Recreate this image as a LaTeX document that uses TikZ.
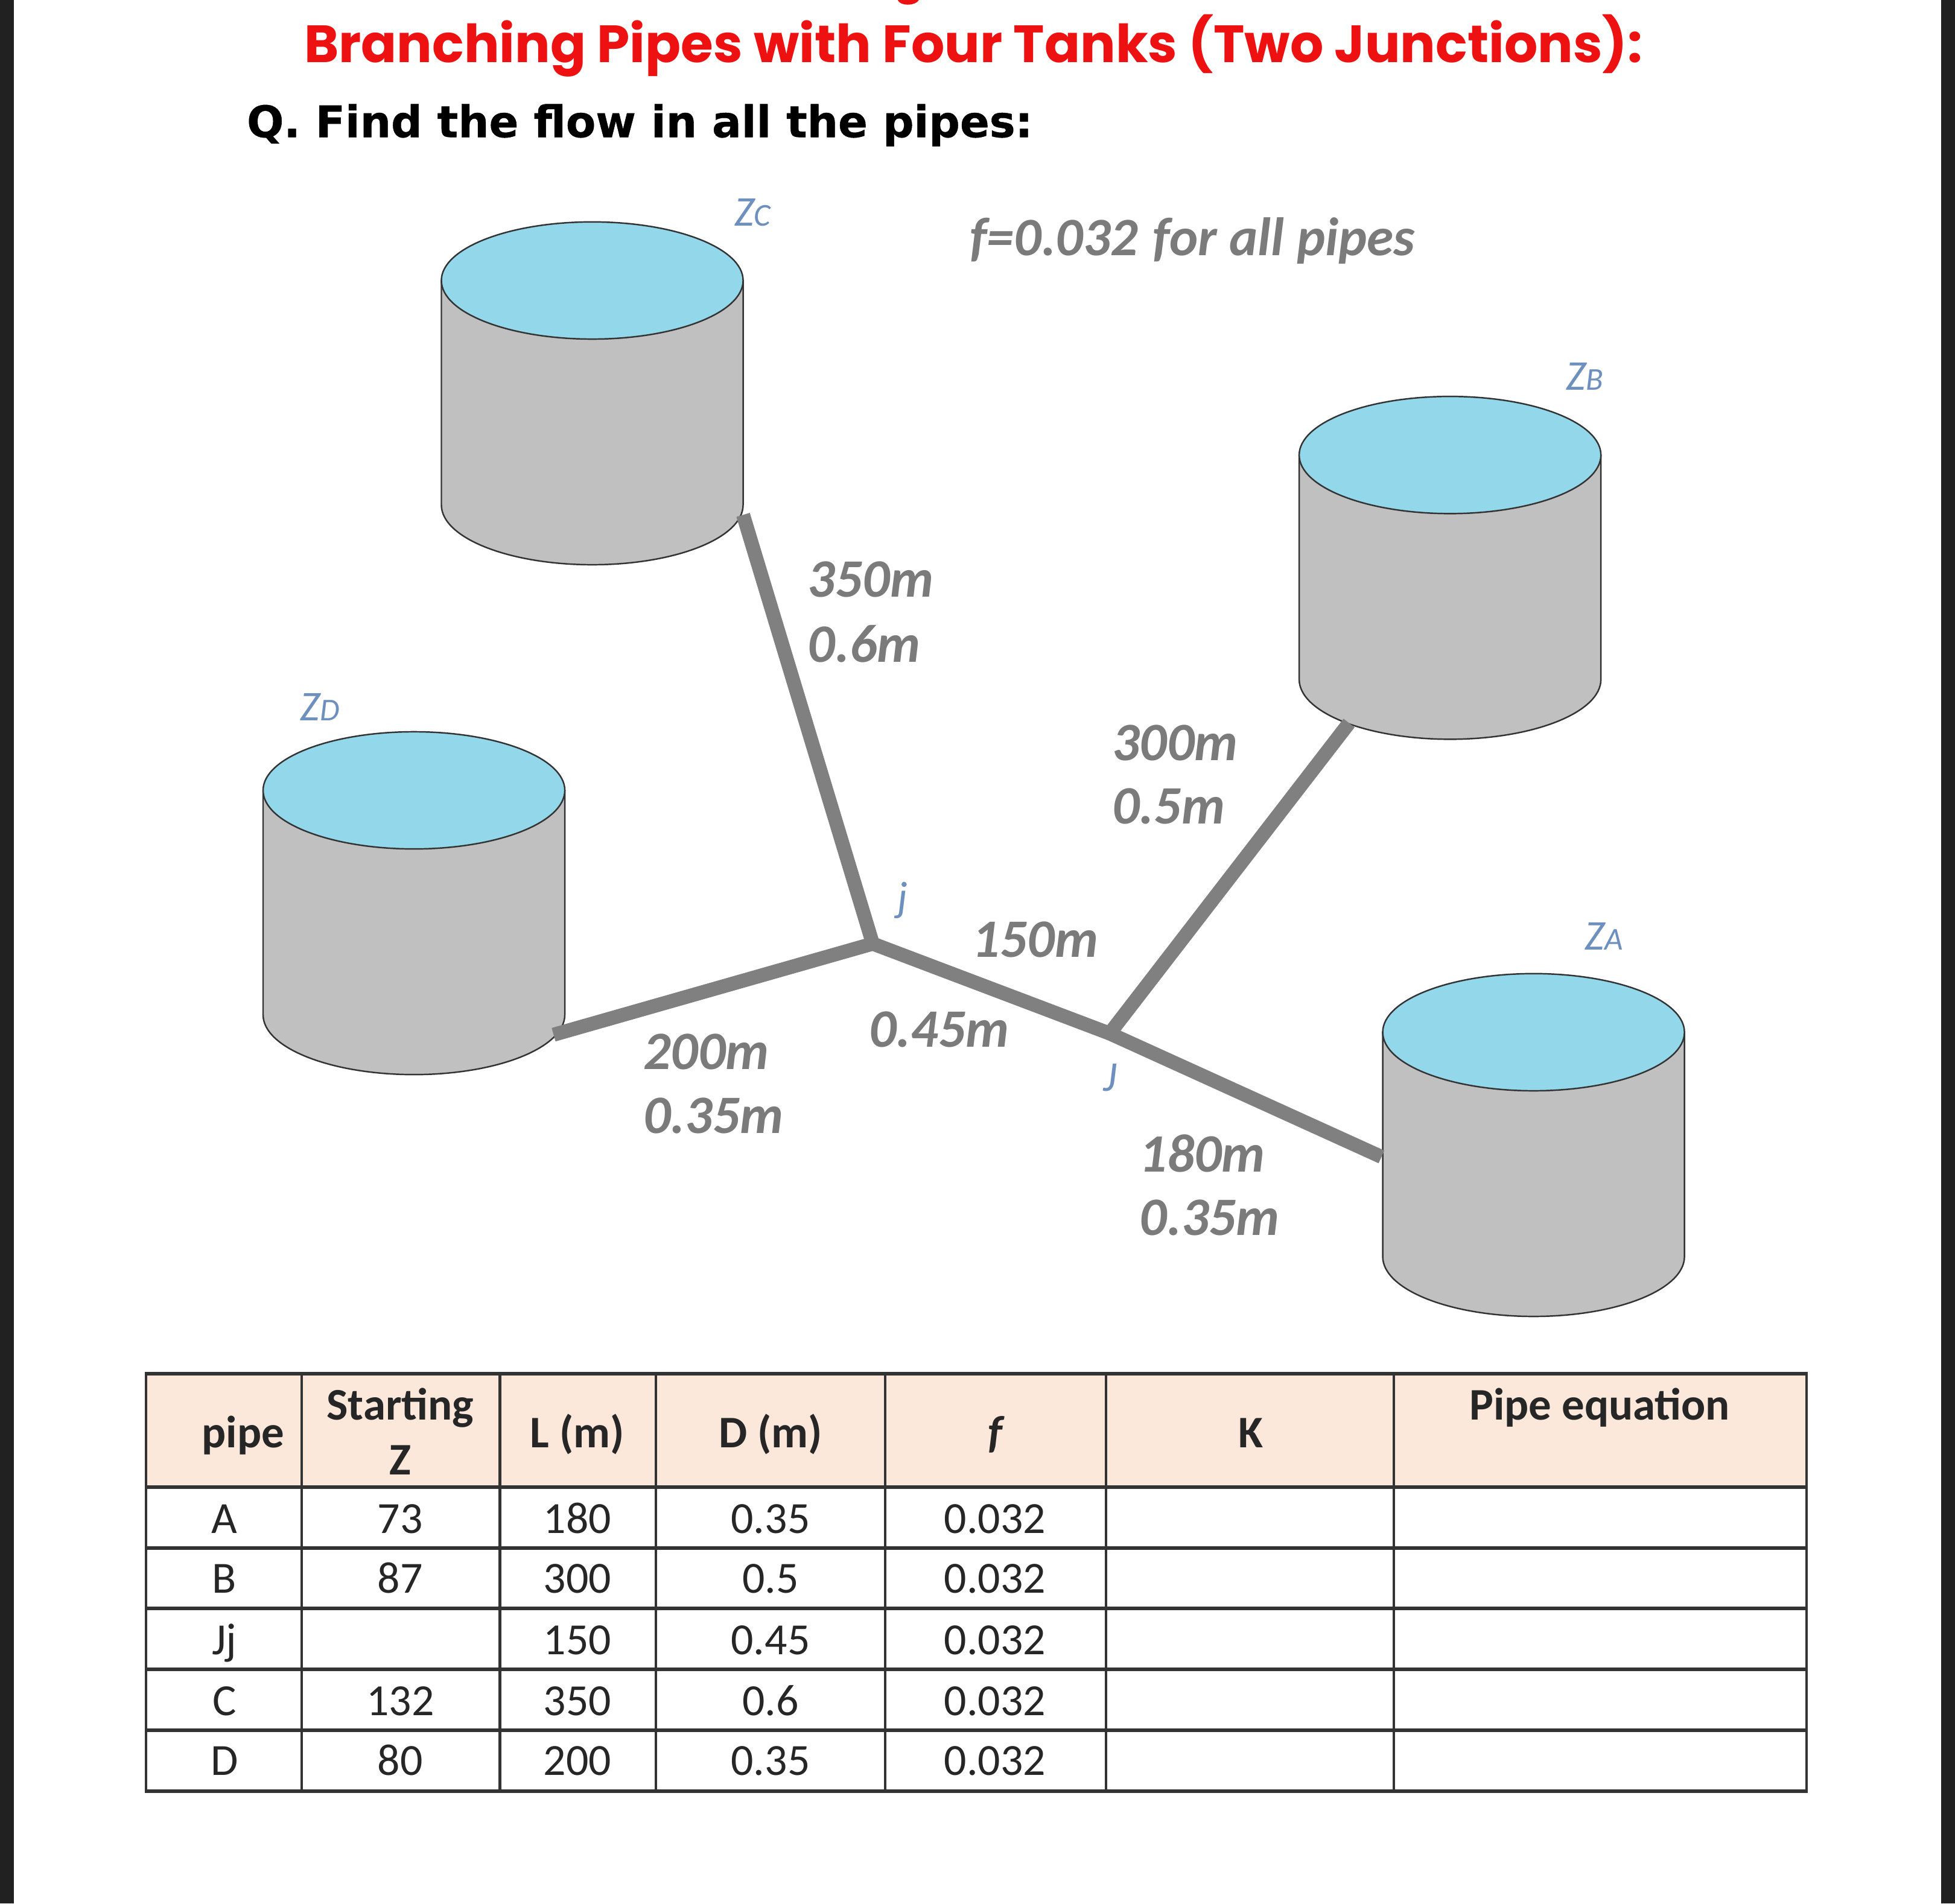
\documentclass[tikz,border=0pt]{standalone}
\usepackage{fontspec}
\setmainfont{Carlito}
\newfontfamily\titlefont{Poppins}
\newfontfamily\headfont[FakeBold=0.6]{DejaVu Sans Bold}
\definecolor{tankside}{HTML}{C0C0C0}
\definecolor{tanktop}{HTML}{93D7EA}
\definecolor{pipegrey}{HTML}{808080}
\definecolor{labelgrey}{HTML}{7B7B7B}
\definecolor{zblue}{HTML}{6E90BE}
\definecolor{headfill}{HTML}{FBE8DB}
\definecolor{rule}{HTML}{333333}
\definecolor{titlered}{HTML}{EE1111}
\tikzset{
  txt/.style={inner sep=0pt,outer sep=0pt,anchor=base},
  wtxt/.style={inner sep=0pt,outer sep=0pt,anchor=base west},
  cell/.style={txt,font=\fontsize{21}{24}\selectfont,text=black!85},
  headcell/.style={txt,font=\fontsize{21.3}{24}\selectfont\bfseries,text=black!85},
  dim/.style={wtxt,font=\fontsize{25.5}{28}\selectfont\bfseries\itshape,text=labelgrey},
  zlab/.style={wtxt,font=\fontsize{20}{22}\selectfont\itshape,text=zblue},
  pipeline/.style={draw=pipegrey,line width=6.6pt,line cap=butt,line join=round},
  tankbody/.style={fill=tankside,draw=black!80,line width=0.7pt},
  tanktopst/.style={fill=tanktop,draw=black!80,line width=0.7pt},
  hrule/.style={draw=rule,line width=1.7pt},
  vrule/.style={draw=rule,line width=1.2pt}
}
\begin{document}
\begin{tikzpicture}[x=0.020663cm,y=-0.020663cm]
\useasboundingbox (0,0) rectangle (1568,1527);
\fill[white] (0,0) rectangle (1568,1527);
\fill[black!87] (0,0) rectangle (11,1527);
\fill[black!87] (1557,0) rectangle (1568,1527);
% titles
\fill[titlered] (720,0) .. controls (722,5) and (734,5) .. (737,0) -- cycle;
\node[wtxt,text=titlered,font=\titlefont\fontsize{24.75}{30}\selectfont\bfseries] (title) at (244,50) {Branching Pipes with Four Tanks (Two Junctions):};
\node[wtxt,text=black,font=\headfont\fontsize{20.5}{26}\selectfont] (question) at (198,110) {Q. Find the flow in all the pipes:};
% tanks
\foreach \cx/\cy in {475/225,1163/365,332/634,1230/828}{
  \path[tankbody] (\cx-121,\cy) -- (\cx-121,\cy+180) arc[start angle=180,end angle=0,x radius=121,y radius=48] -- (\cx+121,\cy) -- cycle;
  \path[tanktopst] (\cx,\cy) ellipse[x radius=121,y radius=47];
}
% pipes
\coordinate (tankC) at (596,413);
\coordinate (tankB) at (1082,580);
\coordinate (tankD) at (444,830);
\coordinate (tankA) at (1108,928);
\coordinate (jSmall) at (700,757);
\coordinate (jBig) at (890,829);
\draw[pipeline] (tankC) -- (jSmall);
\draw[pipeline] (tankD) -- (jSmall) -- (jBig);
\draw[pipeline] (tankB) -- (jBig) -- (tankA);
% labels
\node[zlab] (zc) at (589,181) {Z{\fontsize{15}{16}\selectfont C}};
\node[zlab] (zb) at (1256,313) {Z{\fontsize{15}{16}\selectfont B}};
\node[zlab] (zd) at (241,578) {Z{\fontsize{15}{16}\selectfont D}};
\node[zlab] (za) at (1271,762) {Z{\fontsize{15}{16}\selectfont A}};
\node[zlab] (lj) at (720,731) {j};
\node[zlab] (lJ) at (885,875) {J};
\node[dim] (fall) at (778,205) {f=0.032\hspace{7pt}for all pipes};
\node[dim] (c1) at (648,479) {350m};
\node[dim] (c2) at (648,531) {0.6m};
\node[dim] (b1) at (892,610) {300m};
\node[dim] (b2) at (892,661) {0.5m};
\node[dim] (m1) at (780,768) {150m};
\node[dim] (m2) at (697,840) {0.45m};
\node[dim] (d1) at (516,858) {200m};
\node[dim] (d2) at (516,909) {0.35m};
\node[dim] (a1) at (914,940) {180m};
\node[dim] (a2) at (914,991) {0.35m};
% table
\fill[headfill] (117,1102) rectangle (1449,1193);
\foreach \x in {117,242,401,526,710,887,1118,1449}{\draw[vrule] (\x,1102) -- (\x,1437);}
\foreach \y in {1102,1193,1242,1290,1339,1388,1437}{\draw[hrule] (116,\y) -- (1450,\y);}
\node[headcell] (h1) at (195,1161) {pipe};
\node[headcell] (h2a) at (321,1139) {Starting};
\node[headcell] (h2b) at (321,1183) {Z};
\node[headcell] (h3) at (463,1161) {L (m)};
\node[headcell] (h4) at (618,1161) {D (m)};
\node[headcell,font=\fontsize{21.3}{24}\selectfont\bfseries\itshape] (h5) at (798,1161) {f};
\node[headcell] (h6) at (1003,1161) {K};
\node[headcell] (h7) at (1283,1139) {Pipe equation};
\foreach \nm/\by/\p/\z/\l/\d in {ra/1230/A/73/180/0.35,rb/1278/B/87/300/0.5,rj/1327/Jj//150/0.45,rc/1376/C/132/350/0.6,rd/1424/D/80/200/0.35}{
  \node[cell] (\nm p) at (180,\by) {\p};
  \node[cell] (\nm z) at (321,\by) {\z};
  \node[cell] (\nm l) at (463,\by) {\l};
  \node[cell] (\nm d) at (618,\by) {\d};
  \node[cell] (\nm f) at (798,\by) {0.032};
}
\end{tikzpicture}
\end{document}
